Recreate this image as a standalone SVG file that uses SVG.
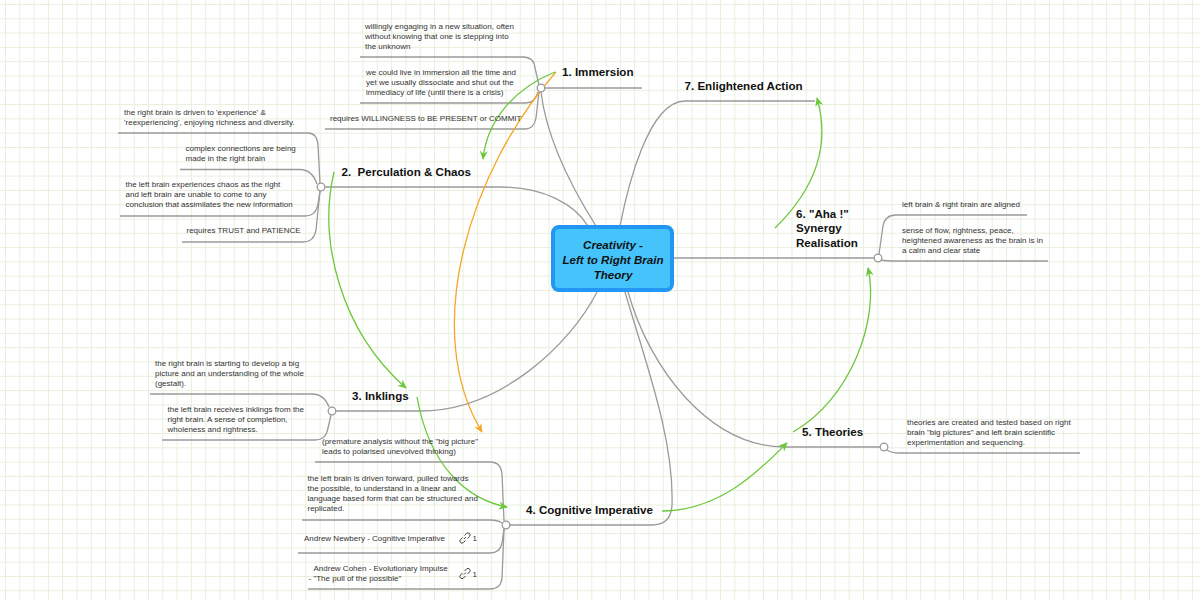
<svg xmlns="http://www.w3.org/2000/svg" width="1200" height="600" viewBox="0 0 1200 600">
<defs>
<pattern id="grid" x="5" y="4" width="14.3" height="14.3" patternUnits="userSpaceOnUse">
<path d="M0,0.5 H14.3 M0.5,0 V14.3" stroke="#e8efdd" stroke-width="1" fill="none"/>
</pattern>
<marker id="ag" viewBox="0 0 10 10" refX="9" refY="5" markerWidth="9" markerHeight="9" markerUnits="userSpaceOnUse" orient="auto">
<path d="M0,0.5 L10,5 L0,9.5 L3,5 Z" fill="#6cc83a"/>
</marker>
<marker id="ao" viewBox="0 0 10 10" refX="9" refY="5" markerWidth="9" markerHeight="9" markerUnits="userSpaceOnUse" orient="auto">
<path d="M0,0.5 L10,5 L0,9.5 L3,5 Z" fill="#f5a623"/>
</marker>
<g id="link">
<path d="M-1,1 L1,-1" stroke="#444" stroke-width="1" fill="none"/>
<path d="M-0.5,-2.5 L1.5,-4.5 A1.8,1.8 0 0 1 4.5,-1.5 L2.5,0.5" stroke="#444" stroke-width="1" fill="none"/>
<path d="M0.5,2.5 L-1.5,4.5 A1.8,1.8 0 0 1 -4.5,1.5 L-2.5,-0.5" stroke="#444" stroke-width="1" fill="none"/>
</g>
</defs>
<style>
.ln{fill:none;stroke:#9a9a9a;stroke-width:1.3}
.rg{fill:none;stroke:#6cc83a;stroke-width:1.3}
.ro{fill:none;stroke:#f5a623;stroke-width:1.3}
.dot{fill:#fff;stroke:#9a9a9a;stroke-width:1.3}
.t{font-family:"Liberation Sans",Arial,sans-serif;font-size:8px;fill:#333}
.lb{font-family:"Liberation Sans",Arial,sans-serif;font-size:11.6px;font-weight:bold;fill:#111}
.ct{font-family:"Liberation Sans",Arial,sans-serif;font-size:11.6px;font-weight:bold;font-style:italic;fill:#111;text-anchor:middle}
</style>
<rect width="1200" height="600" fill="#fff"/>
<rect width="1200" height="600" fill="url(#grid)"/>

<g id="connectors">
<path class="ln" d="M596,226 Q548,150 541,92"/>
<path class="ln" d="M545,88 H642"/>
<path class="ln" d="M325,187 H500 C545,187 575,205 588,226"/>
<path class="ln" d="M620,226 C627,190 648,101 685,101 H815"/>
<path class="ln" d="M674,258 H874"/>
<path class="ln" d="M336,411 H420 C500,411 570,345 597,292"/>
<path class="ln" d="M625,292 C648,370 674,440 672,505 Q671,525 652,525 H510"/>
<path class="ln" d="M628,292 C650,370 710,447 785,447 H880"/>
<path class="ln" d="M360,57 H523 Q534,57 535,68 L539,85"/>
<path class="ln" d="M360,103 H526 Q535,103 538,92"/>
<path class="ln" d="M325,129 H525 Q534,129 536,118 L539,92"/>
<path class="ln" d="M118,133 H308 Q317,133 318,145 L320,183"/>
<path class="ln" d="M180,169.5 H300 Q312,169.5 317,184"/>
<path class="ln" d="M120,216 H305 Q316,216 318,204 L320,191"/>
<path class="ln" d="M182,242 H303 Q314,242 316,230 L320,191"/>
<path class="ln" d="M150,394 H312 Q324,394 329,407"/>
<path class="ln" d="M162,440 H315 Q326,440 328,428 L331,415"/>
<path class="ln" d="M315,462 H490 Q501,462 502,474 L504,521"/>
<path class="ln" d="M302,520 H490 Q498,520 502,523"/>
<path class="ln" d="M298,553 H490 Q500,553 502,543 L504,529"/>
<path class="ln" d="M308,589 H490 Q501,589 502,578 L504,529"/>
<path class="ln" d="M879,254 L883,226 Q885,215 896,215 H1027"/>
<path class="ln" d="M881,260 Q886,261 896,261 H1048"/>
<path class="ln" d="M887,450 Q891,453 899,453 H1080"/>
<path class="ro" d="M556,72 C470,170 420,330 482,432" marker-end="url(#ao)"/>
<path class="rg" d="M555,72 C515,88 487,120 483,159" marker-end="url(#ag)"/>
<path class="rg" d="M334,172 C318,240 340,330 406,388" marker-end="url(#ag)"/>
<path class="rg" d="M417,397 C430,470 470,500 507,507" marker-end="url(#ag)"/>
<path class="rg" d="M662,511 C720,511 760,470 787,443" marker-end="url(#ag)"/>
<path class="rg" d="M793,432 C850,400 880,320 868,268" marker-end="url(#ag)"/>
<path class="rg" d="M775,228 C812,192 832,150 817,98" marker-end="url(#ag)"/>
</g>

<g id="center">
<rect x="553" y="227" width="119" height="63" rx="6" fill="#45c4fc" stroke="#2196f3" stroke-width="4"/>
<text class="ct"><tspan x="613" y="248.5">Creativity -</tspan><tspan x="613" y="263.5">Left to Right Brain</tspan><tspan x="613" y="278.5">Theory</tspan></text>
</g>

<g id="immersion">
<circle class="dot" cx="541" cy="88" r="3.8"/>
<text class="lb" x="562" y="76">1. Immersion</text>
</g>
<g id="imm-c1"><text class="t"><tspan x="365" y="28.5">willingly engaging in a new situation, often</tspan><tspan x="365" y="38.7">without knowing that one is stepping into</tspan><tspan x="365" y="49">the unknown</tspan></text></g>
<g id="imm-c2"><text class="t"><tspan x="366" y="74.5">we could live in immersion all the time and</tspan><tspan x="366" y="84.5">yet we usually dissociate and shut out the</tspan><tspan x="366" y="94.5">immediacy of life (until there is a crisis)</tspan></text></g>
<g id="imm-c3"><text class="t" x="330" y="121">requires WILLINGNESS to BE PRESENT or COMMIT</text></g>

<g id="perculation">
<circle class="dot" cx="321" cy="187" r="3.8"/>
<text class="lb" x="341.5" y="175.5" xml:space="preserve">2.  Perculation &amp; Chaos</text>
</g>
<g id="per-c1"><text class="t"><tspan x="124" y="115">the right brain is driven to 'experience' &amp;</tspan><tspan x="124" y="125">'reexperiencing', enjoying richness and diversity.</tspan></text></g>
<g id="per-c2"><text class="t"><tspan x="185.5" y="151">complex connections are being</tspan><tspan x="185.5" y="161">made in the right brain</tspan></text></g>
<g id="per-c3"><text class="t"><tspan x="125.5" y="187">the left brain experiences chaos as the right</tspan><tspan x="125.5" y="197">and left brain are unable to come to any</tspan><tspan x="125.5" y="207">conclusion that assimilates the new information</tspan></text></g>
<g id="per-c4"><text class="t" x="186.5" y="233">requires TRUST and PATIENCE</text></g>

<g id="inklings">
<circle class="dot" cx="332" cy="411" r="3.8"/>
<text class="lb" x="352" y="399.5">3. Inklings</text>
</g>
<g id="ink-c1"><text class="t"><tspan x="155" y="366">the right brain is starting to develop a big</tspan><tspan x="155" y="376">picture and an understanding of the whole</tspan><tspan x="155" y="386">(gestalt).</tspan></text></g>
<g id="ink-c2"><text class="t"><tspan x="167.5" y="412">the left brain receives inklings from the</tspan><tspan x="167.5" y="422">right brain. A sense of completion,</tspan><tspan x="167.5" y="432">wholeness and rightness.</tspan></text></g>

<g id="cognitive">
<circle class="dot" cx="506" cy="525" r="3.8"/>
<text class="lb" x="526" y="513.5">4. Cognitive Imperative</text>
</g>
<g id="cog-c0"><text class="t"><tspan x="322" y="444">(premature analysis without the "big picture"</tspan><tspan x="322" y="454">leads to polarised unevolved thinking)</tspan></text></g>
<g id="cog-c1"><text class="t"><tspan x="307.5" y="481">the left brain is driven forward, pulled towards</tspan><tspan x="307.5" y="491">the possible, to understand in a linear and</tspan><tspan x="307.5" y="501">language based form that can be structured and</tspan><tspan x="307.5" y="511">replicated.</tspan></text></g>
<g id="cog-c2"><text class="t" x="304" y="540.5">Andrew Newbery - Cognitive Imperative</text><use href="#link" x="465" y="538"/><text class="t" x="472.5" y="541">1</text></g>
<g id="cog-c3"><text class="t"><tspan x="313.5" y="571">Andrew Cohen - Evolutionary Impulse</tspan><tspan x="308.5" y="581">- "The pull of the possible"</tspan></text><use href="#link" x="465" y="573.5"/><text class="t" x="472.5" y="577">1</text></g>

<g id="theories">
<circle class="dot" cx="884" cy="447" r="3.8"/>
<text class="lb" x="802" y="436">5. Theories</text>
</g>
<g id="the-c1"><text class="t"><tspan x="907" y="425">theories are created and tested based on right</tspan><tspan x="907" y="435">brain "big pictures" and left brain scientific</tspan><tspan x="907" y="445">experimentation and sequencing.</tspan></text></g>

<g id="aha">
<circle class="dot" cx="878" cy="258" r="3.8"/>
<text class="lb"><tspan x="796" y="217.5">6. "Aha !"</tspan><tspan x="796" y="232">Synergy</tspan><tspan x="796" y="246.5">Realisation</tspan></text>
</g>
<g id="aha-c1"><text class="t" x="902" y="206.5">left brain &amp; right brain are aligned</text></g>
<g id="aha-c2"><text class="t"><tspan x="902" y="233">sense of flow, rightness, peace,</tspan><tspan x="902" y="243">heightened awareness as the brain is in</tspan><tspan x="902" y="253">a calm and clear state</tspan></text></g>

<g id="enlightened">
<text class="lb" x="684.5" y="89.5">7. Enlightened Action</text>
</g>
</svg>
